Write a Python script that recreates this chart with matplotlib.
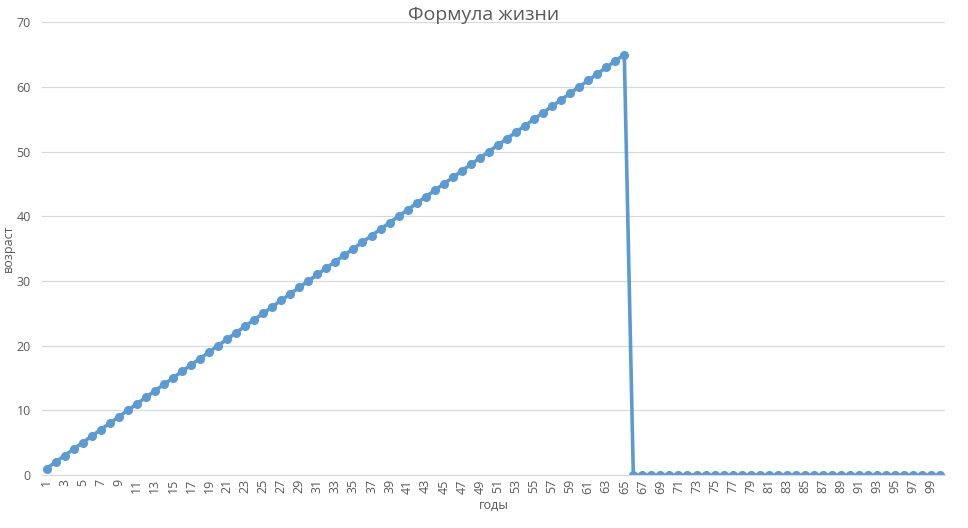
import matplotlib
matplotlib.use('Agg')
from matplotlib import pyplot as plt

# years 1..100
years = [1, 2, 3, 4, 5, 6, 7, 8, 9, 10, 11, 12, 13, 14, 15, 16, 17, 18, 19, 20,
         21, 22, 23, 24, 25, 26, 27, 28, 29, 30, 31, 32, 33, 34, 35, 36, 37, 38, 39, 40,
         41, 42, 43, 44, 45, 46, 47, 48, 49, 50, 51, 52, 53, 54, 55, 56, 57, 58, 59, 60,
         61, 62, 63, 64, 65, 66, 67, 68, 69, 70, 71, 72, 73, 74, 75, 76, 77, 78, 79, 80,
         81, 82, 83, 84, 85, 86, 87, 88, 89, 90, 91, 92, 93, 94, 95, 96, 97, 98, 99, 100]
age = [1, 2, 3, 4, 5, 6, 7, 8, 9, 10, 11, 12, 13, 14, 15, 16, 17, 18, 19, 20,
       21, 22, 23, 24, 25, 26, 27, 28, 29, 30, 31, 32, 33, 34, 35, 36, 37, 38, 39, 40,
       41, 42, 43, 44, 45, 46, 47, 48, 49, 50, 51, 52, 53, 54, 55, 56, 57, 58, 59, 60,
       61, 62, 63, 64, 65, 0, 0, 0, 0, 0, 0, 0, 0, 0, 0, 0, 0, 0, 0, 0,
       0, 0, 0, 0, 0, 0, 0, 0, 0, 0, 0, 0, 0, 0, 0, 0, 0, 0, 0, 0]
tick_labels = [str(y) for y in years[::2]]

plt.rcParams['font.family'] = ['Open Sans', 'DejaVu Sans']
gray = '#595959'

fig = plt.figure(figsize=(9.68, 5.28), dpi=100)
ax = fig.add_axes([0.0434, 0.1004, 0.9326, 0.8576])

ax.plot(years, age, color='#5B9BD5', lw=2.6, marker='o', ms=5.5)

ax.set_xlim(0.5, 100.5)
ax.set_ylim(0, 70)
ax.set_xticks(years[::2])
ax.set_xticklabels(tick_labels, rotation=90, fontsize=9, color=gray)
ax.set_yticks(range(0, 71, 10))
ax.tick_params(axis='y', labelsize=9, labelcolor=gray, length=0, pad=8)
ax.tick_params(axis='x', length=0, pad=3)
ax.grid(axis='y', color='#D9D9D9', lw=0.9)
ax.set_axisbelow(True)
for s in ['top', 'right', 'left']:
    ax.spines[s].set_visible(False)
ax.spines['bottom'].set_color('#D9D9D9')

ax.set_xlabel('годы', fontsize=9, color=gray, labelpad=4)
ax.set_ylabel('возраст', fontsize=9, color=gray, labelpad=1)
fig.text(0.5, 0.972, 'Формула жизни', ha='center', va='center', fontsize=14, color=gray)

plt.savefig('out.png')
